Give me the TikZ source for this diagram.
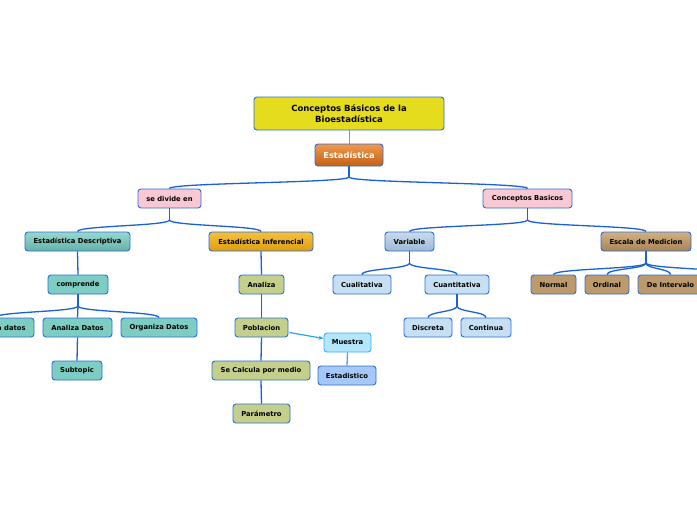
\documentclass[tikz,border=0pt]{standalone}
\usepackage{fontspec}
\setmainfont{DejaVu Sans}
\usetikzlibrary{arrows.meta,calc}
\definecolor{bordc}{HTML}{2A6FD6}
\definecolor{linkc}{HTML}{1A62D4}
\definecolor{linkl}{HTML}{6A9AD8}
\definecolor{arrc}{HTML}{29A8E0}
\definecolor{yel}{HTML}{E6DC1E}
\definecolor{pink}{HTML}{F8C8D4}
\definecolor{teal}{HTML}{7DCDC3}
\definecolor{olive}{HTML}{C4CF8B}
\definecolor{lblue}{HTML}{C7DFF3}
\definecolor{tan}{HTML}{BD9A6B}
\definecolor{cyanl}{HTML}{B3E6FB}
\definecolor{cyanb}{HTML}{3BB0E8}
\definecolor{estb}{HTML}{A6C8F7}
\newcommand\brn[2]{\draw[link] (#1) .. controls ($(#1)+(0,6)$) and ($(#2)+(0,-6)$) .. (#2);}
\begin{document}
\begin{tikzpicture}[x=1pt,y=-1pt,
  box/.style={draw=bordc, line width=0.9pt, rounded corners=3pt, minimum height=19pt,
    inner sep=0pt, font=\fontsize{6.8}{8}\selectfont\bfseries, text=black},
  link/.style={draw=linkc, line width=1.3pt}]
\useasboundingbox (0,0) rectangle (697,520);
\clip (0,0) rectangle (697,520);
\fill[white] (0,0) rectangle (697,520);

% nodes
\node[box, fill=yel, minimum width=190pt, minimum height=33pt, align=center,
  font=\fontsize{8.5}{10.5}\selectfont\bfseries] (title) at (349,113.5) {Conceptos Básicos de la\\Bioestadística};
\node[box, top color={rgb,255:red,238;green,154;blue,76}, bottom color={rgb,255:red,198;green,95;blue,21},
  minimum width=68pt, minimum height=22pt, text=white,
  font=\fontsize{8.3}{10}\selectfont\bfseries] (est) at (349,155) {Estadística};
\node[box, fill=pink, minimum width=63pt] (div) at (169.5,198.5) {se divide en};
\node[box, fill=pink, minimum width=89pt] (cb) at (527.5,198.5) {Conceptos Basicos};
\node[box, top color={rgb,255:red,151;green,216;blue,208}, bottom color={rgb,255:red,100;green,178;blue,168},
  minimum width=105pt] (desc) at (77.5,241.5) {Estadística Descriptiva};
\node[box, top color={rgb,255:red,245;green,192;blue,60}, bottom color={rgb,255:red,222;green,158;blue,16},
  minimum width=104pt] (inf) at (261,241.5) {Estadística Inferencial};
\node[box, top color={rgb,255:red,202;green,219;blue,236}, bottom color={rgb,255:red,157;green,184;blue,212},
  minimum width=49pt] (var) at (409.5,241.5) {Variable};
\node[box, top color={rgb,255:red,210;green,176;blue,130}, bottom color={rgb,255:red,168;green,131;blue,86},
  minimum width=90pt] (esc) at (646,241.5) {Escala de Medicion};
\node[box, fill=teal, minimum width=60pt] (comp) at (78,284.5) {comprende};
\node[box, fill=olive, minimum width=45pt] (anl) at (261.5,284.5) {Analiza};
\node[box, fill=lblue, minimum width=58pt] (cual) at (362,284.5) {Cualitativa};
\node[box, fill=lblue, minimum width=64pt] (cuan) at (457,284.5) {Cuantitativa};
\node[box, fill=tan, minimum width=45pt] (norm) at (553.5,284.5) {Normal};
\node[box, fill=tan, minimum width=44pt] (ord) at (607,284.5) {Ordinal};
\node[box, fill=tan, minimum width=65pt] (intv) at (670.5,284.5) {De Intervalo};
\coordinate (razn) at (745,275);
\node[box, fill=teal, minimum width=78pt] (rec) at (-5,327.5) {Recolecta datos};
\node[box, fill=teal, minimum width=69pt] (anld) at (77.5,327.5) {Analiza Datos};
\node[box, fill=teal, minimum width=76pt] (org) at (159,327.5) {Organiza Datos};
\node[box, fill=teal, minimum width=50pt] (sub) at (77,370.5) {Subtopic};
\node[box, fill=olive, minimum width=53pt] (pob) at (261.5,327.5) {Poblacion};
\node[box, fill=olive, minimum width=98pt] (calc) at (261,370.5) {Se Calcula por medio};
\node[box, fill=olive, minimum width=57pt] (par) at (261.5,413.5) {Parámetro};
\node[box, fill=cyanl, draw=cyanb, minimum width=47pt] (mues) at (347.5,342.5) {Muestra};
\node[box, fill=estb, minimum width=58pt] (esto) at (347,375.5) {Estadistico};
\node[box, fill=lblue, minimum width=48pt] (disc) at (428,327.5) {Discreta};
\node[box, fill=lblue, minimum width=50pt] (cont) at (486,327.5) {Continua};

% junctions
\coordinate (j1) at (349,177);
\coordinate (j2) at (169.5,220);
\coordinate (j3) at (527.5,220);
\coordinate (j4) at (409.5,263);
\coordinate (j5) at (646,263);
\coordinate (j6) at (78,306);
\coordinate (j7) at (457,306);
\coordinate (pa) at ($(pob.east)+(1,5)$);
\coordinate (ma) at ($(mues.west)+(0,-4)$);

% connectors
\draw[draw=linkl, line width=1pt] (title.south) -- (est.north);
\draw[link] (est.south) -- (j1);
\brn{j1}{div.north}
\brn{j1}{cb.north}
\draw[link] (div.south) -- (j2);
\brn{j2}{desc.north}
\brn{j2}{inf.north}
\draw[link] (cb.south) -- (j3);
\brn{j3}{var.north}
\brn{j3}{esc.north}
\draw[link] (var.south) -- (j4);
\brn{j4}{cual.north}
\brn{j4}{cuan.north}
\draw[link] (esc.south) -- (j5);
\brn{j5}{norm.north}
\brn{j5}{ord.north}
\brn{j5}{intv.north}
\brn{j5}{razn}
\draw[link] (desc.south) -- (comp.north);
\draw[link] (comp.south) -- (j6);
\brn{j6}{rec.north}
\brn{j6}{anld.north}
\brn{j6}{org.north}
\draw[link] (anld.south) -- (sub.north);
\draw[link] (cuan.south) -- (j7);
\brn{j7}{disc.north}
\brn{j7}{cont.north}
\draw[link] (inf.south) -- (anl.north);
\draw[link] (anl.south) -- (pob.north);
\draw[link] (pob.south) -- (calc.north);
\draw[link] (calc.south) -- (par.north);
\draw[draw=arrc, line width=1.2pt, -{Stealth[length=5pt,width=4pt]}] (pa) -- (ma);
\draw[draw=linkl, line width=1.3pt] (mues.south) -- (esto.north);
\end{tikzpicture}
\end{document}
